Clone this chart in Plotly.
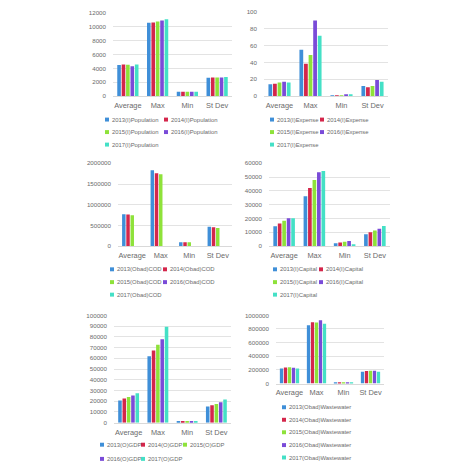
import plotly.graph_objects as go

W = H = 474

categories = ["Average", "Max", "Min", "St Dev"]
years = ["2013", "2014", "2015", "2016", "2017"]
colors = ["#3f8fd8", "#d4264b", "#8ee23a", "#7a4bd8", "#44e0c6"]

# Panel 1: Population (I)
population = [
    [4500, 10600, 600, 2650],
    [4550, 10650, 600, 2680],
    [4520, 10800, 600, 2680],
    [4300, 10950, 600, 2680],
    [4550, 11100, 600, 2750],
]
# Panel 2: Expense (I)
expense = [
    [14, 55, 0.2, 12],
    [14.5, 38.5, 0.3, 10.5],
    [16, 49, 0.6, 12],
    [17, 90, 1.2, 19],
    [16, 72, 1.0, 17],
]
# Panel 3: COD (Obad)
cod = [
    [770000, 1833000, 95000, 468000],
    [765000, 1762000, 95000, 452000],
    [745000, 1738000, 95000, 437000],
    [None, None, None, None],
    [None, None, None, None],
]
# Panel 4: Capital (I)
capital = [
    [14300, 36200, 2100, 8600],
    [16400, 42100, 2600, 10000],
    [18300, 47900, 3100, 11200],
    [20200, 53600, 3600, 12600],
    [20200, 54500, 1400, 14500],
]
# Panel 5: GDP (O)
gdp = [
    [20800, 61800, 1500, 15000],
    [22600, 67300, 1500, 16200],
    [23900, 72500, 1500, 17400],
    [25400, 77700, 1600, 19000],
    [27500, 89300, 1600, 21700],
]
# Panel 6: Wastewater (Obad)
wastewater = [
    [221000, 856000, 19000, 173000],
    [236000, 899000, 19000, 183000],
    [240000, 894000, 20000, 188000],
    [231000, 928000, 21000, 188000],
    [221000, 875000, 19000, 173000],
]

panels = [
    dict(data=population, suffix="(I)Population", ymax=12000, dtick=2000,
         x=(113, 232), y=(9.3, 93.3),
         legend=[(107, 117.3), (166, 117.3), (107, 130), (166, 130), (107, 142.7)]),
    dict(data=expense, suffix="(I)Expense", ymax=100, dtick=20,
         x=(264, 388), y=(8.3, 93.3),
         legend=[(272, 117.3), (322, 117.3), (272, 130), (322, 130), (272, 142.7)]),
    dict(data=cod, suffix="(Obad)COD", ymax=2000000, dtick=500000,
         x=(118, 232), y=(161.7, 245.7),
         legend=[(112, 269.3), (165, 269.3), (112, 282.3), (165, 282.3), (112, 295)]),
    dict(data=capital, suffix="(I)Capital", ymax=60000, dtick=10000,
         x=(269, 390), y=(161.7, 245.7),
         legend=[(275, 269.3), (321, 269.3), (275, 282.3), (321, 282.3), (275, 295)]),
    dict(data=gdp, suffix="(O)GDP", ymax=100000, dtick=10000,
         x=(114, 231), y=(316, 425),
         legend=[(102, 447.3), (143, 447.3), (185, 447.3), (102, 461.7), (143, 461.7)]),
    dict(data=wastewater, suffix="(Obad)Wastewater", ymax=1000000, dtick=200000,
         x=(276, 384), y=(316, 385.3),
         legend=[(284, 409.3), (284, 422), (284, 434.7), (284, 447.7), (284, 460.3)]),
]

FONT = "'Liberation Sans', Arial, sans-serif"
GRAY = "#6b6b6b"

fig = go.Figure()
layout = dict(
    width=W, height=H, margin=dict(l=0, r=0, t=0, b=0),
    paper_bgcolor="white", plot_bgcolor="white",
    barmode="group", bargap=0.26, bargroupgap=0.18,
    showlegend=False, font=dict(family=FONT, color=GRAY),
)
shapes = []
annotations = []

for p_i, p in enumerate(panels):
    n = p_i + 1
    xa = "x" if n == 1 else f"x{n}"
    ya = "y" if n == 1 else f"y{n}"
    xkey = "xaxis" if n == 1 else f"xaxis{n}"
    ykey = "yaxis" if n == 1 else f"yaxis{n}"
    for s_i, vals in enumerate(p["data"]):
        fig.add_trace(go.Bar(
            x=categories, y=vals, name=years[s_i] + p["suffix"],
            marker=dict(color=colors[s_i], line=dict(width=0)),
            xaxis=xa, yaxis=ya,
        ))
    x0, x1 = p["x"]
    y0, y1 = p["y"]
    layout[xkey] = dict(
        domain=[x0 / W, x1 / W], anchor=ya, type="category",
        showgrid=False, showline=True, linecolor="#d9d9d9", linewidth=1,
        ticks="", tickfont=dict(size=7.4, color=GRAY, family=FONT),
        fixedrange=True, ticklabelstandoff=2,
    )
    layout[ykey] = dict(
        domain=[1 - y1 / H, 1 - y0 / H], anchor=xa,
        range=[0, p["ymax"]], dtick=p["dtick"], tick0=0, tickformat="d",
        showgrid=True, gridcolor="#e3e3e3", gridwidth=1,
        zeroline=False, showline=False, ticks="",
        tickfont=dict(size=6.2, color=GRAY, family=FONT),
        ticklabelstandoff=6, fixedrange=True,
    )
    # custom compact legend
    for s_i, (mx, my) in enumerate(p["legend"]):
        shapes.append(dict(
            type="rect", xref="paper", yref="paper",
            x0=(mx - 2) / W, x1=(mx + 2) / W,
            y0=1 - (my + 2) / H, y1=1 - (my - 2) / H,
            fillcolor=colors[s_i], line=dict(width=0),
        ))
        annotations.append(dict(
            xref="paper", yref="paper", x=(mx + 2.5) / W, y=1 - my / H,
            xanchor="left", yanchor="middle", showarrow=False,
            text=years[s_i] + p["suffix"],
            font=dict(size=5.9, color=GRAY, family=FONT),
        ))

layout["shapes"] = shapes
layout["annotations"] = annotations
fig.update_layout(**layout)
fig.write_html("out.html")
